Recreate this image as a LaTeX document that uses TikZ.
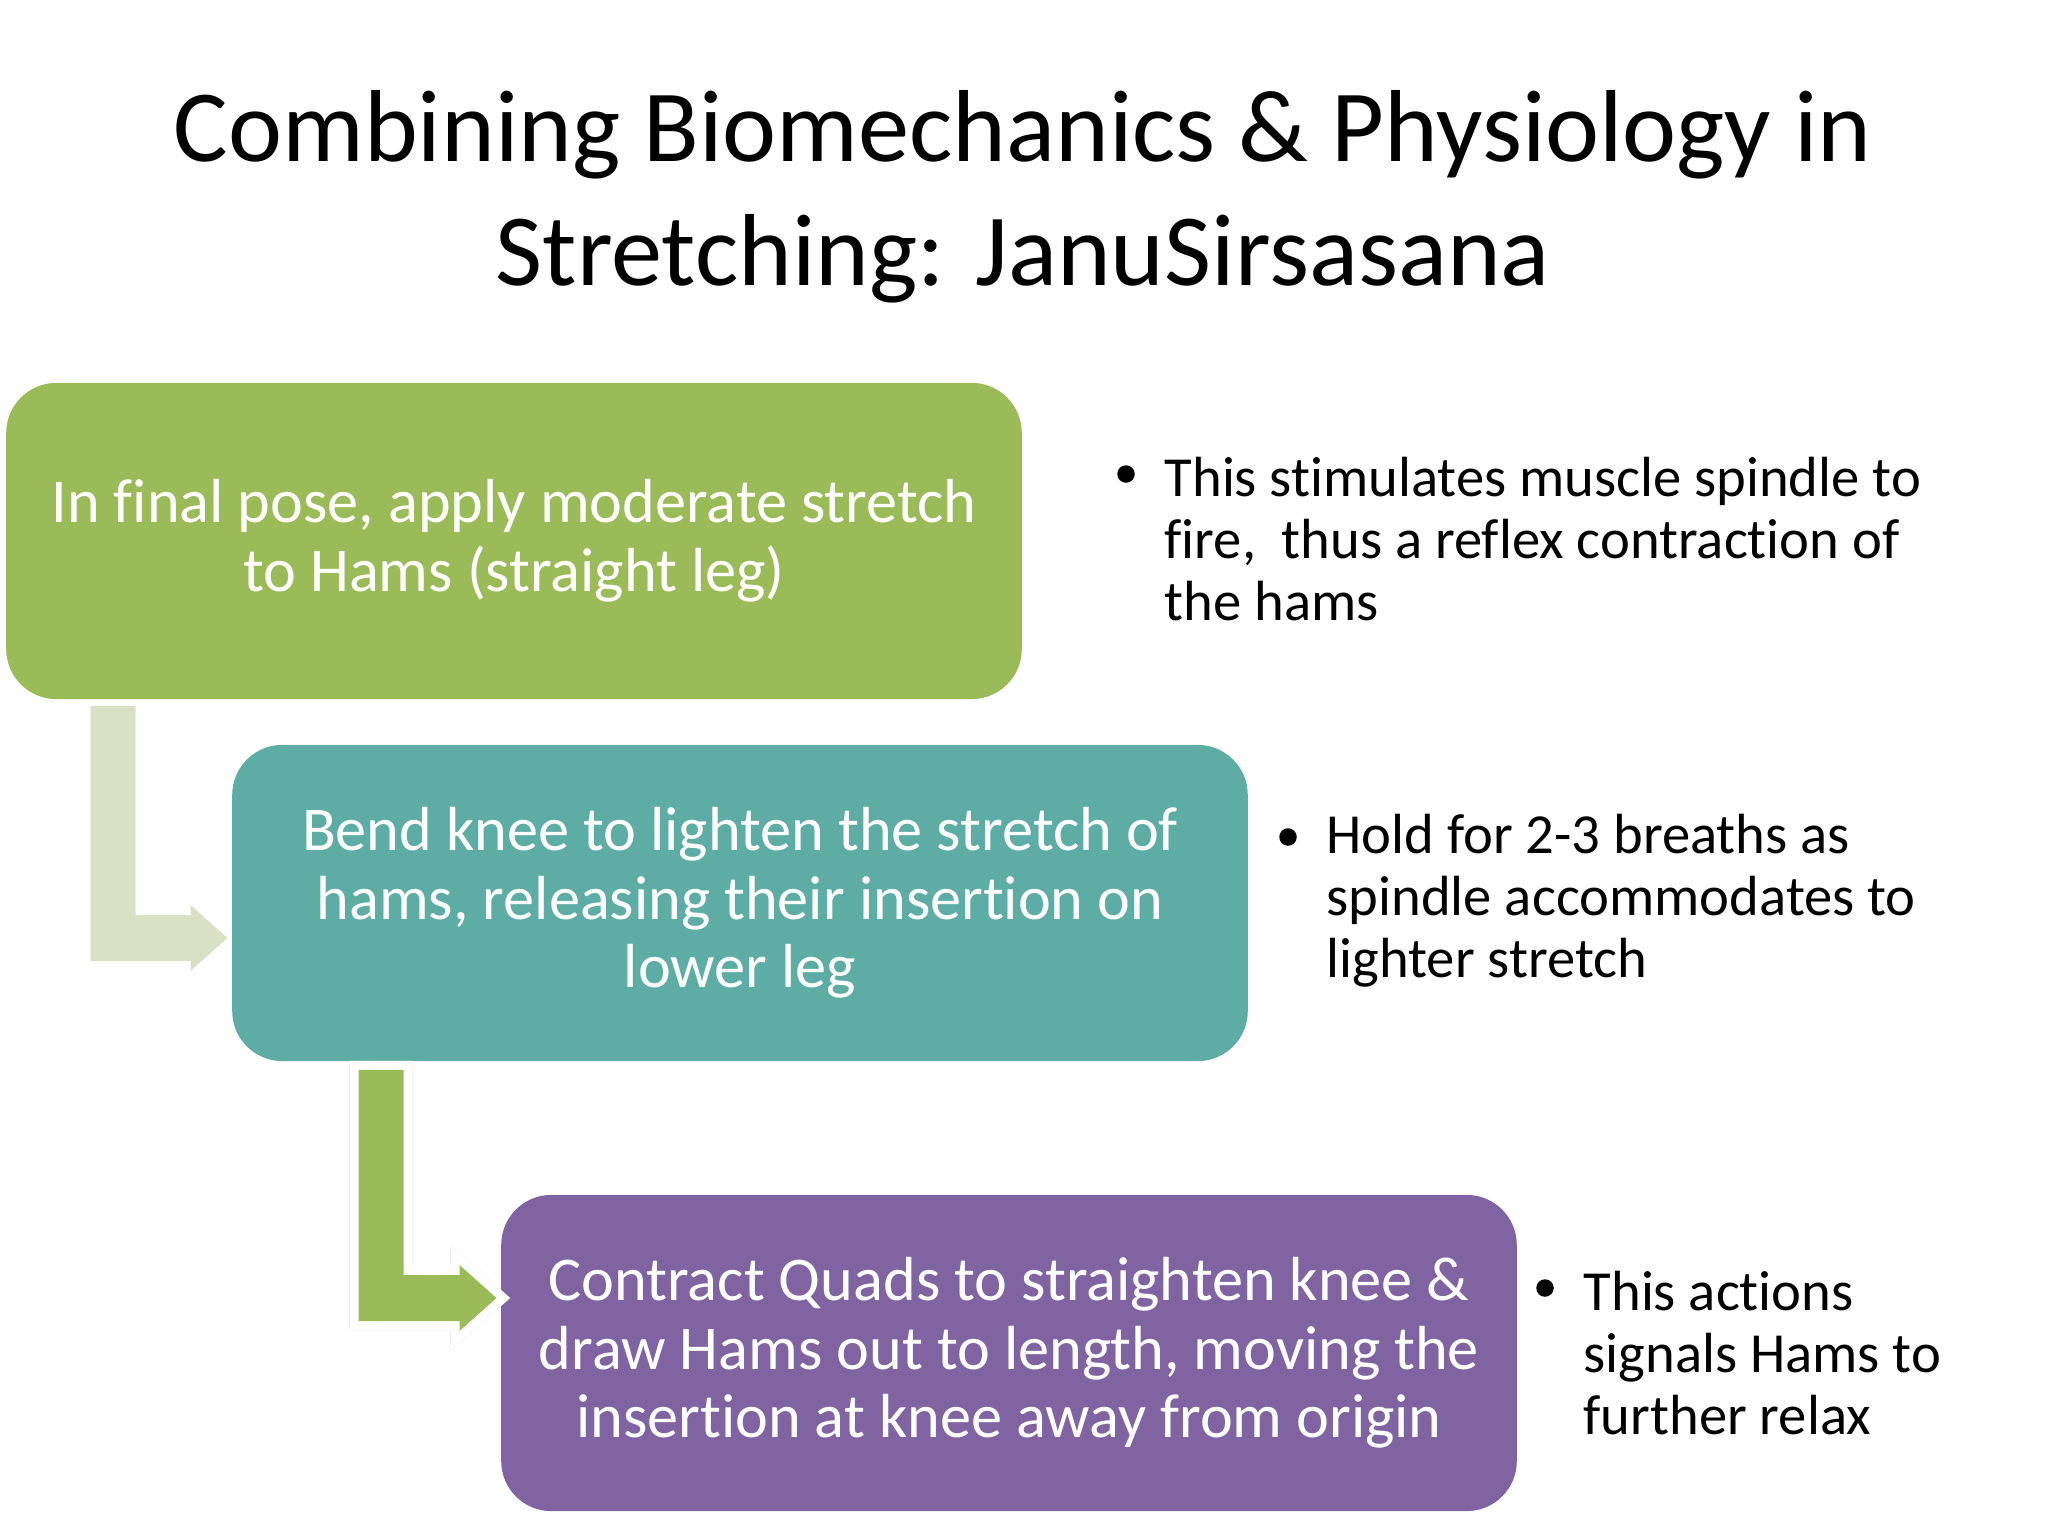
\documentclass[tikz,border=0pt]{standalone}
\usepackage{fontspec}
\setmainfont[Ligatures={NoCommon}]{Carlito}
\usetikzlibrary{calc}

\definecolor{stepgreen}{HTML}{9BBB59}
\definecolor{stepteal}{HTML}{5DADA5}
\definecolor{steppurple}{HTML}{8064A2}
\definecolor{palegreen}{HTML}{D8E0C6}

\newcommand\titlefont{\fontsize{29.1}{35.2}\selectfont}
\newcommand\boxfont{\fontsize{17.7}{19.5}\selectfont}
\newcommand\notefont{\fontsize{16.1}{17.6}\selectfont}

% elbow block arrow: style, top left corner of the stem, tip
\newcommand\elbowarrow[3]{%
  \path[#1] (#2) -- ++(45,0) |- ($(#3)+(-37,-23)$) -- ($(#3)+(-37,-33)$) -- (#3)
    -- ($(#3)+(-37,33)$) -- ($(#3)+(-37,23)$) -| (#2) -- cycle;}

\begin{document}
\begin{tikzpicture}[x=0.01cm, y=-0.01cm,
    stepbox/.style={rectangle, rounded corners=0.5cm, text=white, font=\boxfont,
      align=center, inner sep=0pt, minimum width=10.15cm, minimum height=3.16cm},
    note/.style={anchor=west, align=left, inner sep=0pt, font=\notefont},
    dot/.style={circle, fill=black, inner sep=0pt, minimum size=0.175cm}]
    \useasboundingbox (0,0) rectangle (2048,1536);

    % Titel
    \node[font=\titlefont, align=center, inner sep=0pt] (title) at (1023,197)
        {Combining Biomechanics \& Physiology in\\Stretching: JanuSirsasana};

    % Stappen
    \node[stepbox, fill=stepgreen] (box1) at (514,541)
        {In final pose, apply moderate stretch\\to Hams (straight leg)};
    \node[stepbox, fill=stepteal] (box2) at (740,903)
        {Bend knee to lighten the stretch of\\hams, releasing their insertion on\\lower leg};
    \node[stepbox, fill=steppurple] (box3) at (1009,1353)
        {Contract Quads to straighten knee \&\\draw Hams out to length, moving the\\insertion at knee away from origin};

    % Pijlen tussen de stappen
    \coordinate (top1) at ($(box1.south west)+(85,6)$);
    \coordinate (tip1) at ($(box2.west)+(-4,35)$);
    \elbowarrow{fill=palegreen}{top1}{tip1}

    \coordinate (top2) at ($(box2.south west)+(127,8)$);
    \coordinate (tip2) at ($(box3.west)+(-4,-55)$);
    \begin{scope}[shift={(4,5)}]
        \elbowarrow{fill=black!18, draw=black!18, line width=0.18cm}{top2}{tip2}
    \end{scope}
    \elbowarrow{fill=white, draw=white, line width=0.18cm, line join=miter}{top2}{tip2}
    \elbowarrow{fill=stepgreen}{top2}{tip2}

    % Opmerkingen
    \node[dot] (dot1) at (1126,474) {};
    \node[note] (note1) at (1164,539)
        {This stimulates muscle spindle to\\fire,~ thus a reflex contraction of\\the hams};
    \node[dot] (dot2) at (1288,837) {};
    \node[note] (note2) at (1326,901)
        {Hold for 2-3 breaths as\\spindle accommodates to\\lighter stretch};
    \node[dot] (dot3) at (1545,1288) {};
    \node[note] (note3) at (1583,1353)
        {This actions\\signals Hams to\\further relax};
\end{tikzpicture}
\end{document}
